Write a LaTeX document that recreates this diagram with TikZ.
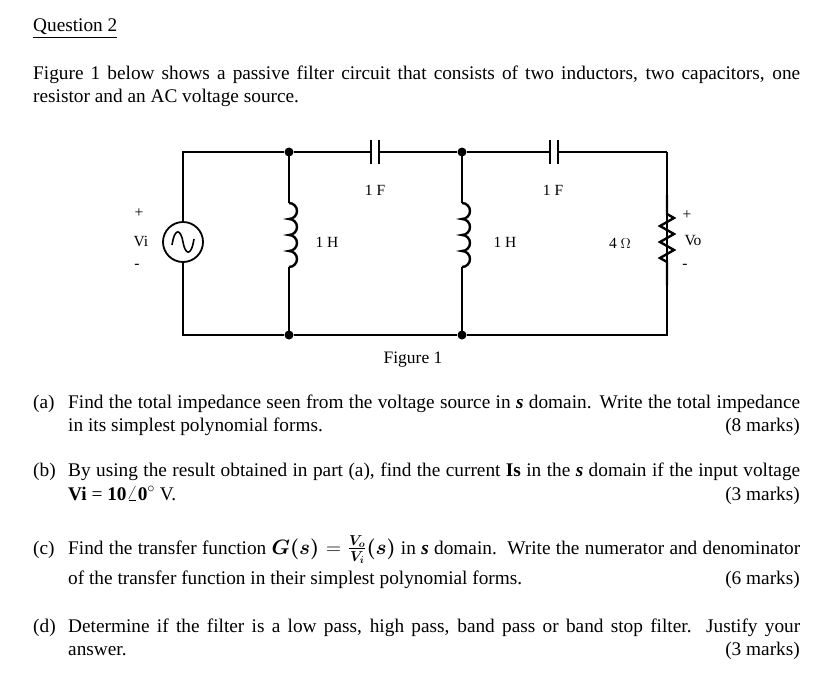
\documentclass[tikz,border=0pt]{standalone}
\usepackage{fontspec}
\usepackage{amsmath,bm}
\setmainfont{Liberation Serif}
\begin{document}
\begin{tikzpicture}[x=1pt,y=-1pt,
  wire/.style={line width=1.4pt},
  lead/.style={line width=2.4pt},
  dot/.style={circle,fill,inner sep=0pt,minimum size=9pt},
  lbl/.style={font=\fontsize{15.5}{16}\selectfont,inner sep=0pt},
  txt/.style={font=\fontsize{19.3}{22}\selectfont,inner sep=0pt,anchor=base west}]
\useasboundingbox (0,0) rectangle (833,688);
% ---------- text ----------
\node[txt] (q) at (33,31) {\underline{Question 2}};
\node[txt] (p1) at (33,79) {\makebox[767pt][s]{Figure 1 below shows a passive filter circuit that consists of two inductors, two capacitors, one}};
\node[txt] (p2) at (33,102) {resistor and an AC voltage source.};
\node[txt,anchor=base,font=\fontsize{17.5}{22}\selectfont] (fig) at (413,363) {Figure 1};
\node[txt] (a0) at (33,408) {(a)};
\node[txt] (a1) at (68,408) {\makebox[732pt][s]{Find the total impedance seen from the voltage source in \textbf{\textit{s}} domain. Write the total impedance}};
\node[txt] (a2) at (68,431) {in its simplest polynomial forms.};
\node[txt,anchor=base east] (am) at (800,431) {(8 marks)};
\node[txt] (b0) at (33,476) {(b)};
\node[txt] (b1) at (68,476) {\makebox[732pt][s]{By using the result obtained in part (a), find the current \textbf{Is} in the \textbf{\textit{s}} domain if the input voltage}};
\node[txt] (b2) at (68,500) {\textbf{Vi} = $\mathbf{10\angle 0^\circ}$ V.};
\node[txt,anchor=base east] (bm) at (800,500) {(3 marks)};
\node[txt] (c0) at (33,554) {(c)};
\node[txt] (c1) at (68,554) {\makebox[732pt][s]{Find the transfer function $\bm{G(s)} = \bm{\frac{V_o}{V_i}(s)}$ in \textbf{\textit{s}} domain.\ \ Write the numerator and denominator}};
\node[txt] (c2) at (68,584) {of the transfer function in their simplest polynomial forms.};
\node[txt,anchor=base east] (cm) at (800,584) {(6 marks)};
\node[txt] (d0) at (33,632) {(d)};
\node[txt] (d1) at (68,632) {\makebox[732pt][s]{Determine if the filter is a low pass, high pass, band pass or band stop filter.\ \ Justify your}};
\node[txt] (d2) at (68,655) {answer.};
\node[txt,anchor=base east] (dm) at (800,655) {(3 marks)};
% ---------- circuit ----------
\coordinate (tl) at (183,152); \coordinate (bl) at (183,335);
\node[dot] (n1) at (289,152) {}; \node[dot] (n2) at (462,152) {};
\node[dot] (m1) at (289,335) {}; \node[dot] (m2) at (462,335) {};
\coordinate (tr) at (667,152); \coordinate (br) at (667,335);
% source
\node[circle,draw,line width=1.8pt,minimum size=40pt,inner sep=0pt] (src) at (183,242) {};
\draw[line width=1.6pt] (172,245) .. controls (175,226) and (181,230) .. (183,242) .. controls (185,254) and (191,258) .. (194,239);
\draw[wire] (src.north) -- (tl) -- (n1);
\draw[wire] (src.south) -- (bl) -- (m1) -- (m2) -- (br) -- (tr);
\draw[lead] (183,222) -- (183,200); \draw[lead] (183,262) -- (183,284);
% caps
\draw[wire] (n1) -- (330,152); \draw[lead] (330,152) -- (371,152);
\draw[lead] (371,140) -- (371,164); \draw[lead] (379,140) -- (379,164);
\draw[lead] (379,152) -- (420,152); \draw[wire] (420,152) -- (n2);
\draw[wire] (n2) -- (510,152); \draw[lead] (510,152) -- (550,152);
\draw[lead] (550,140) -- (550,164); \draw[lead] (558,140) -- (558,164);
\draw[lead] (558,152) -- (598,152); \draw[wire] (598,152) -- (tr);
% inductors
\foreach \x in {289,462}{
  \draw[wire] (\x,152) -- (\x,190);
  \draw[lead] (\x,190) -- (\x,203);
  \draw[lead] (\x,203) arc[start angle=-90,end angle=90,radius=8] arc[start angle=-90,end angle=90,radius=8] arc[start angle=-90,end angle=90,radius=8] arc[start angle=-90,end angle=90,radius=8];
  \draw[lead] (\x,267) -- (\x,280);
  \draw[wire] (\x,280) -- (\x,335);
}
% resistor
\draw[lead] (667,195) -- (667,214) -- (674,218) -- (660,226) -- (674,234) -- (660,242) -- (674,250) -- (660,258) -- (667,262) -- (667,285);
% labels
\node[lbl] (l1) at (375,190) {1 F}; \node[lbl] (l2) at (553,190) {1 F};
\node[lbl] (l3) at (327,242) {1 H}; \node[lbl] (l4) at (505,242) {1 H};
\node[lbl] (l5) at (620,243) {4 $\Omega$};
\node[lbl] (l6) at (693,241) {Vo};
\node[lbl] (l7) at (687,215) {+}; \node[lbl] (l8) at (685,266) {-};
\node[lbl] (l9) at (141,241) {Vi};
\node[lbl] (l10) at (139,213) {+}; \node[lbl] (l11) at (137,266) {-};
\end{tikzpicture}
\end{document}
